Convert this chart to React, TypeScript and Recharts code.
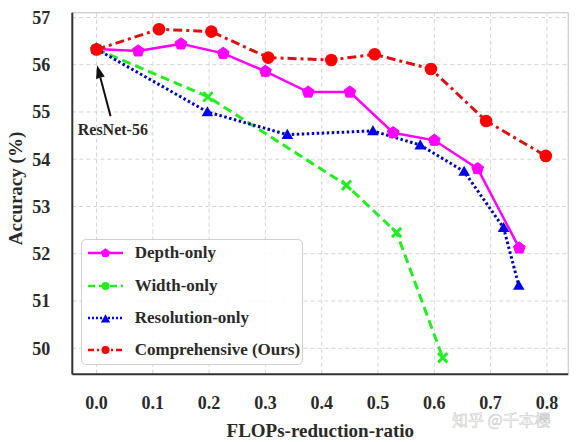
import React from 'react';
import {
  LineChart,
  Line,
  XAxis,
  YAxis,
  CartesianGrid,
  Legend,
  ReferenceLine,
  ReferenceDot,
} from 'recharts';

// FLOPs-reduction-ratio (x) and accuracy (y) per strategy
const depthX = [0, 0.074, 0.15, 0.225, 0.3, 0.376, 0.45, 0.527, 0.6, 0.677, 0.751];
const depthY = [56.33, 56.29, 56.44, 56.24, 55.86, 55.42, 55.42, 54.56, 54.4, 53.8, 52.12];

const widthX = [0, 0.198, 0.444, 0.533, 0.615];
const widthY = [56.33, 55.32, 53.45, 52.45, 49.8];

const resX = [0, 0.197, 0.339, 0.491, 0.575, 0.653, 0.723, 0.75];
const resY = [56.33, 55.0, 54.52, 54.6, 54.3, 53.74, 52.55, 51.33];

const compX = [0, 0.111, 0.204, 0.305, 0.417, 0.494, 0.594, 0.692, 0.798];
const compY = [56.32, 56.75, 56.7, 56.15, 56.1, 56.22, 55.91, 54.81, 54.07];

const xTicks = [0, 0.1, 0.2, 0.3, 0.4, 0.5, 0.6, 0.7, 0.8];
const yTicks = [50, 51, 52, 53, 54, 55, 56, 57];

const X_DOMAIN: [number, number] = [-0.043, 0.838];
const Y_DOMAIN: [number, number] = [49.45, 57.1];

const zip = (xs: number[], ys: number[]) => xs.map((x, i) => ({ x, y: ys[i] }));

const depthData = zip(depthX, depthY);
const widthData = zip(widthX, widthY);
const resData = zip(resX, resY);
const compData = zip(compX, compY);

const FONT = '"Liberation Serif", "Times New Roman", serif';
const TEXT = '#2a2a2a';

const MAGENTA = '#ff00ff';
const GREEN = '#22ee22';
const BLUE = '#0000ee';
const BLUE_LINE = '#0000bb';
const RED = '#ff0000';
const RED_LINE = '#dd1111';

type Marker = 'pentagon' | 'x' | 'triangle' | 'circle' | 'dot';

function drawMarker(kind: Marker, cx: number, cy: number, color: string, s = 1) {
  if (kind === 'pentagon') {
    const r = 6.2 * s;
    const pts = [0, 1, 2, 3, 4]
      .map((i) => {
        const a = -Math.PI / 2 + (i * 2 * Math.PI) / 5;
        return `${cx + r * Math.cos(a)},${cy + r * Math.sin(a)}`;
      })
      .join(' ');
    return <polygon points={pts} fill={color} stroke={color} strokeWidth={1} />;
  }
  if (kind === 'x') {
    const d = 4.6 * s;
    return (
      <g stroke={color} strokeWidth={3} strokeLinecap="butt">
        <line x1={cx - d} y1={cy - d} x2={cx + d} y2={cy + d} />
        <line x1={cx - d} y1={cy + d} x2={cx + d} y2={cy - d} />
      </g>
    );
  }
  if (kind === 'triangle') {
    const h = 5.8 * s;
    return (
      <polygon
        points={`${cx},${cy - h} ${cx + h},${cy + h * 0.75} ${cx - h},${cy + h * 0.75}`}
        fill={color}
      />
    );
  }
  const r = (kind === 'dot' ? 4 : 6.3) * s;
  return <circle cx={cx} cy={cy} r={r} fill={color} />;
}

const markerDot = (kind: Marker, color: string) => (props: any) => {
  const { cx, cy, index } = props;
  if (cx == null || cy == null) return <g key={index} />;
  return <g key={index}>{drawMarker(kind, cx, cy, color)}</g>;
};

const legendItems = [
  { name: 'Depth-only', color: MAGENTA, dash: undefined, marker: 'pentagon' as Marker },
  { name: 'Width-only', color: GREEN, dash: '7 4', marker: 'dot' as Marker },
  { name: 'Resolution-only', color: BLUE, dash: '2 2', marker: 'triangle' as Marker },
  { name: 'Comprehensive (Ours)', color: RED, dash: '6 3 2 3', marker: 'dot' as Marker },
];

const renderLegend = () => (
  <div
    style={{
      position: 'relative',
      width: 222,
      height: 126,
      boxSizing: 'border-box',
      border: '1.5px solid #d0d0d0',
      borderRadius: 5,
      background: 'rgba(255,255,255,0.85)',
    }}
  >
    {legendItems.map((it, i) => (
      <div
        key={it.name}
        style={{
          position: 'absolute',
          left: 0,
          top: 13 + i * 32.4 - 11,
          height: 22,
          display: 'flex',
          alignItems: 'center',
          whiteSpace: 'nowrap',
        }}
      >
        <svg width={50} height={22} style={{ display: 'block' }}>
          <line
            x1={6}
            x2={41}
            y1={11}
            y2={11}
            stroke={it.color}
            strokeWidth={2.5}
            strokeDasharray={it.dash}
          />
          {it.marker === 'triangle'
            ? drawMarker('triangle', 23.5, 12, it.color, 0.8)
            : it.marker === 'pentagon'
              ? drawMarker('pentagon', 23.5, 11, it.color, 0.7)
              : drawMarker('dot', 23.5, 11, it.color)}
        </svg>
        <span
          style={{
            marginLeft: 3,
            fontFamily: FONT,
            fontWeight: 'bold',
            fontSize: 17,
            color: TEXT,
          }}
        >
          {it.name}
        </span>
      </div>
    ))}
  </div>
);

const arrowShape = (props: any) => {
  const { x1, y1, x2, y2 } = props;
  if ([x1, y1, x2, y2].some((v) => v == null || isNaN(v))) return <g />;
  const ang = Math.atan2(y2 - y1, x2 - x1);
  const len = 13;
  const hw = 4.5;
  const bx = x2 - len * Math.cos(ang);
  const by = y2 - len * Math.sin(ang);
  const px = -Math.sin(ang) * hw;
  const py = Math.cos(ang) * hw;
  return (
    <g>
      <line x1={x1} y1={y1} x2={bx} y2={by} stroke="#111" strokeWidth={2} />
      <polygon points={`${x2},${y2} ${bx + px},${by + py} ${bx - px},${by - py}`} fill="#111" />
    </g>
  );
};

const resnetLabel = (props: any) => {
  const { cx, cy } = props;
  return (
    <text
      x={cx}
      y={cy}
      textAnchor="middle"
      dominantBaseline="central"
      fontFamily={FONT}
      fontWeight="bold"
      fontSize={16}
      fill={TEXT}
    >
      ResNet-56
    </text>
  );
};

const tickStyle = { fill: TEXT, fontFamily: FONT, fontWeight: 'bold' as const, fontSize: 18 };

export default function App() {
  return (
    <div style={{ position: 'absolute', left: 0, top: 0, width: 576, height: 442, background: '#fff' }}>
      <LineChart width={576} height={442} margin={{ top: 12.7, right: 7.7, left: 0, bottom: 0 }}>
        <CartesianGrid stroke="#d4d4d4" strokeDasharray="4 3" strokeWidth={1} />
        <XAxis
          type="number"
          dataKey="x"
          domain={X_DOMAIN}
          ticks={xTicks}
          allowDataOverflow
          height={67.7}
          tickFormatter={(v: number) => v.toFixed(1)}
          tick={tickStyle}
          tickSize={0}
          tickMargin={22}
          axisLine={{ stroke: '#333', strokeWidth: 2 }}
          label={(p: any) => {
            const vb = p.viewBox || {};
            return (
              <text
                x={vb.x + vb.width / 2}
                y={430}
                textAnchor="middle"
                dominantBaseline="central"
                fontFamily={FONT}
                fontWeight="bold"
                fontSize={19}
                fill={TEXT}
              >
                FLOPs-reduction-ratio
              </text>
            );
          }}
        />
        <YAxis
          type="number"
          dataKey="y"
          domain={Y_DOMAIN}
          ticks={yTicks}
          allowDataOverflow
          width={72.3}
          tick={tickStyle}
          tickSize={0}
          tickMargin={22}
          axisLine={{ stroke: '#333', strokeWidth: 2 }}
          label={(p: any) => {
            const vb = p.viewBox || {};
            const cy = vb.y + vb.height / 2 - 5;
            return (
              <text
                x={15}
                y={cy}
                transform={`rotate(-90 15 ${cy})`}
                textAnchor="middle"
                dominantBaseline="central"
                fontFamily={FONT}
                fontWeight="bold"
                fontSize={19}
                fill={TEXT}
              >
                Accuracy (%)
              </text>
            );
          }}
        />
        <ReferenceLine y={Y_DOMAIN[1]} stroke="#cfcfcf" strokeWidth={1.2} ifOverflow="visible" />
        <ReferenceLine x={X_DOMAIN[1]} stroke="#cfcfcf" strokeWidth={1.2} ifOverflow="visible" />

        <Legend
          layout="vertical"
          align="center"
          verticalAlign="middle"
          content={renderLegend}
          wrapperStyle={{ position: 'absolute', left: 80.7, top: 239.3, width: 222, height: 126 }}
        />

        <Line
          name="Depth-only"
          data={depthData}
          dataKey="y"
          stroke={MAGENTA}
          strokeWidth={2.5}
          dot={markerDot('pentagon', MAGENTA)}
          activeDot={false}
          isAnimationActive={false}
        />
        <Line
          name="Width-only"
          data={widthData}
          dataKey="y"
          stroke={GREEN}
          strokeWidth={3}
          strokeDasharray="9 5"
          dot={markerDot('x', GREEN)}
          activeDot={false}
          isAnimationActive={false}
        />
        <Line
          name="Resolution-only"
          data={resData}
          dataKey="y"
          stroke={BLUE_LINE}
          strokeWidth={3}
          strokeDasharray="2.5 2.5"
          dot={markerDot('triangle', BLUE)}
          activeDot={false}
          isAnimationActive={false}
        />
        <Line
          name="Comprehensive (Ours)"
          data={compData}
          dataKey="y"
          stroke={RED_LINE}
          strokeWidth={3}
          strokeDasharray="9 4 3 4"
          dot={markerDot('circle', RED)}
          activeDot={false}
          isAnimationActive={false}
        />

        <ReferenceLine
          segment={[
            { x: 0.025, y: 54.91 },
            { x: 0.001, y: 55.99 },
          ]}
          shape={arrowShape}
          ifOverflow="visible"
        />
        <ReferenceDot x={0.029} y={54.62} shape={resnetLabel} ifOverflow="visible" />
      </LineChart>
      <div
        style={{
          position: 'absolute',
          left: 452,
          top: 407,
          fontFamily: '"Noto Sans CJK SC", sans-serif',
          fontSize: 16,
          color: '#ffffff',
          WebkitTextStroke: '0.5px #c4c4c4',
          whiteSpace: 'nowrap',
          pointerEvents: 'none',
        }}
      >
        知乎 @千本樱
      </div>
    </div>
  );
}
